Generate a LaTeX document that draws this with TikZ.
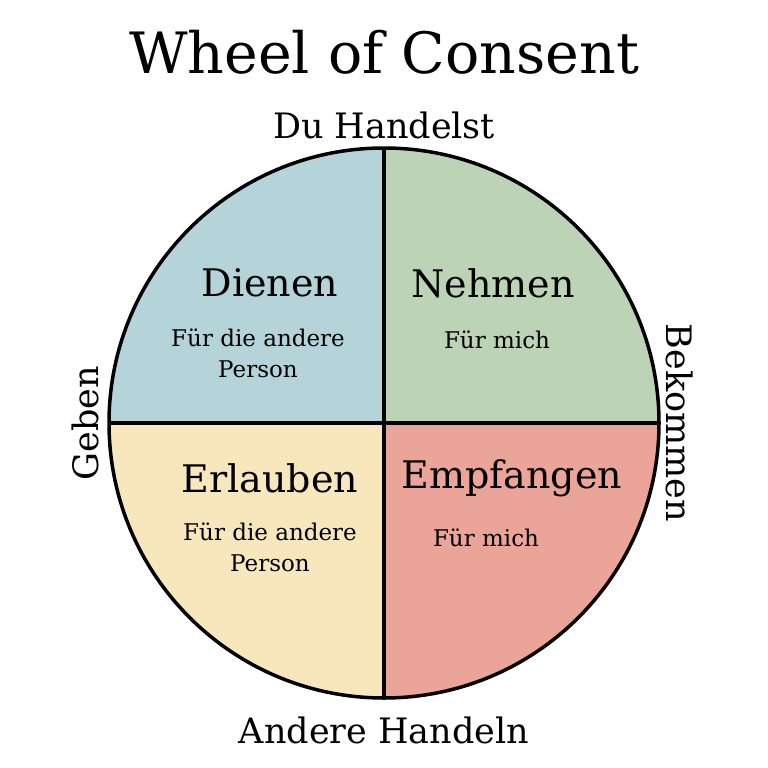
\documentclass[tikz,border=0pt]{standalone}
\usepackage{fontspec}
\setmainfont{DejaVu Serif}
\definecolor{dienenblue}{HTML}{B4D4DA}
\definecolor{nehmengreen}{HTML}{BDD3B6}
\definecolor{erlaubenyellow}{HTML}{F8E7BC}
\definecolor{empfangenred}{HTML}{EBA498}
\begin{document}
\begin{tikzpicture}[x=1pt, y=-1pt,
    quadtitle/.style={font=\fontsize{38}{44}\selectfont},
    quadtext/.style={font=\fontsize{23}{31}\selectfont, align=center},
    sidelabel/.style={font=\fontsize{35}{40}\selectfont}]
  \useasboundingbox (0,0) rectangle (768,768);
  \fill[white] (0,0) rectangle (768,768);
  %%% quadrants (y axis points down, so angles run clockwise)
  \fill[dienenblue]     (384,423) -- (109,423) arc[start angle=180, end angle=270, radius=275] -- cycle;
  \fill[nehmengreen]    (384,423) -- (384,148) arc[start angle=270, end angle=360, radius=275] -- cycle;
  \fill[erlaubenyellow] (384,423) -- (109,423) arc[start angle=180, end angle=90, radius=275] -- cycle;
  \fill[empfangenred]   (384,423) -- (659,423) arc[start angle=0, end angle=90, radius=275] -- cycle;
  \draw[line width=3.5pt] (384,423) circle[radius=275];
  \draw[line width=3.5pt] (109,423) -- (659,423);
  \draw[line width=3.5pt] (384,148) -- (384,698);
  %%% labels
  \node (title) at (384,52) {\fontsize{57}{64}\selectfont Wheel of Consent};
  \node[sidelabel] (oben)  at (384,125) {Du Handelst};
  \node[sidelabel] (unten) at (384,730) {Andere Handeln};
  \node[sidelabel, rotate=90]  (links)  at (85,423)  {Geben};
  \node[sidelabel, rotate=-90] (rechts) at (680,423) {Bekommen};
  \node[quadtitle] (dienen)    at (270,283) {Dienen};
  \node[quadtext]  (dienentxt) at (258,353) {Für die andere\\Person};
  \node[quadtitle] (nehmen)    at (493,283) {Nehmen};
  \node[quadtext]  (nehmentxt) at (497,340) {Für mich};
  \node[quadtitle] (erlauben)    at (270,478) {Erlauben};
  \node[quadtext]  (erlaubentxt) at (270,547) {Für die andere\\Person};
  \node[quadtitle] (empfangen)    at (512,478) {Empfangen};
  \node[quadtext]  (empfangentxt) at (486,538) {Für mich};
\end{tikzpicture}
\end{document}
